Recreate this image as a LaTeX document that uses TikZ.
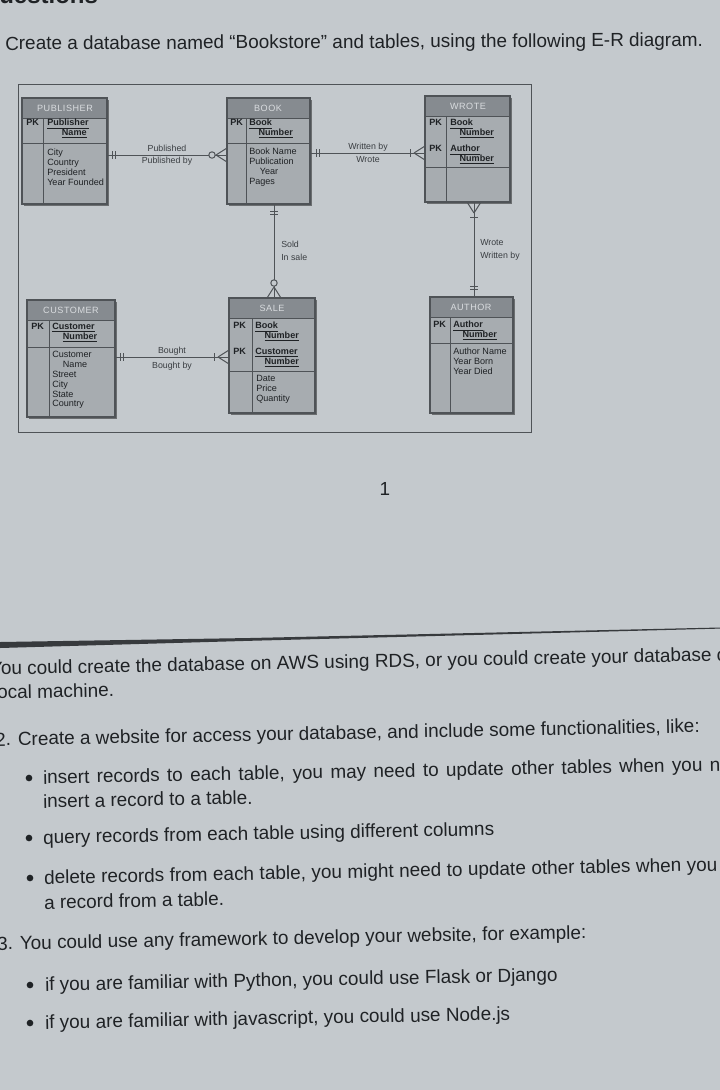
\documentclass[tikz,border=0pt]{standalone}
\usepackage{fontspec}
\setmainfont{Liberation Sans}
\usetikzlibrary{shadows,calc}
\definecolor{bg}{HTML}{C4C9CD}
\definecolor{ink}{HTML}{1F2225}
\definecolor{lab}{HTML}{3A3E42}
\definecolor{hdr}{HTML}{868B90}
\definecolor{bodyc}{HTML}{A7ACB0}
\definecolor{edgec}{HTML}{4F5357}
\definecolor{hdrtxt}{HTML}{D9DCDF}
\newcommand\btfont{\fontsize{6.8}{7.4}\selectfont}
\newcommand\ptfont{\fontsize{14.2}{17}\selectfont}
% name, x1, y1, x2, y2, header bottom, key bottom, column divider
\newcommand\entbox[8]{%
  \node[entity, anchor=north west, minimum width={(#4-#2)*0.75pt}, minimum height={(#5-#3)*0.75pt}] (#1) at (#2,#3) {};
  \fill[hdr] (#2,#3) rectangle (#4,#6);
  \draw[divl] (#2,#6) -- (#4,#6);
  \draw[divl] (#2,#7) -- (#4,#7);
  \draw[divl] (#8,#6) -- (#8,#5);
  \draw[draw=edgec, line width=0.8pt] (#1.north west) rectangle (#1.south east);
}
\begin{document}
\begin{tikzpicture}[x=0.75pt,y=-0.75pt,
  entity/.style={draw=edgec, line width=0.8pt, fill=bodyc, inner sep=0pt, outer sep=0pt,
    drop shadow={shadow xshift=1.8pt, shadow yshift=-1.8pt, opacity=0.45, fill=black}},
  divl/.style={draw=edgec, line width=0.5pt},
  conn/.style={draw=edgec, line width=0.75pt},
  btx/.style={font=\btfont, text=ink, inner sep=0pt, anchor=north west, align=left},
  bkey/.style={btx, font=\btfont\bfseries},
  htx/.style={font=\fontsize{6.8}{8}\selectfont\addfontfeature{LetterSpace=6}, text=hdrtxt, inner sep=0pt},
  lbl/.style={font=\fontsize{6.6}{8}\selectfont, text=lab, inner sep=0pt},
  ptx/.style={font=\ptfont, text=ink, inner sep=0pt, anchor=base west, rotate=1.1},
  bul/.style={circle, fill=ink, inner sep=0pt, minimum size=5pt},
]
\path[use as bounding box] (0,0) rectangle (720,1090);
\clip (0,0) rectangle (720,1090);
\fill[bg] (0,0) rectangle (720,1090);

% ---------- page text (top) ----------
\node[font=\fontsize{18}{20}\selectfont\bfseries, text=ink, anchor=base west, inner sep=0pt] (head) at (-1,3) {uestions};
\node[ptx, rotate=-0.8] (l1) at (5,50) {Create a database named “Bookstore” and tables, using the following E-R diagram.};

% ---------- frame ----------
\node[draw=edgec, line width=1.1pt, anchor=north west, inner sep=0pt, minimum width={513*0.75pt}, minimum height={348*0.75pt}] (frame) at (18,84) {};

% ---------- entities ----------
\entbox{pub}{22}{98}{107}{204}{118}{143}{43}
\entbox{book}{227}{98}{310}{204}{118}{143}{246}
\entbox{wrote}{425}{96}{510}{202}{116}{167}{446}
\entbox{cust}{27}{300}{115}{417}{320}{347}{49}
\entbox{sale}{229}{298}{315}{413}{318}{371}{252}
\entbox{auth}{430}{297}{513}{413}{317}{343}{450}

% headers
\node[htx] (pubh) at (65,108) {PUBLISHER};
\node[htx] (bookh) at (268,108) {BOOK};
\node[htx] (wroteh) at (468,106) {WROTE};
\node[htx] (custh) at (71,310) {CUSTOMER};
\node[htx] (saleh) at (272,308) {SALE};
\node[htx] (authh) at (471,307) {AUTHOR};

% PUBLISHER
\node[bkey] (pubpk) at (26,119) {PK};
\node[bkey] (pubk) at (47,119) {\underline{Publisher}\\\hspace*{11pt}\underline{Name}};
\node[btx] (puba) at (47,149) {City\\Country\\President\\Year Founded};
% BOOK
\node[bkey] (bookpk) at (230,119) {PK};
\node[bkey] (bookk) at (249,119) {\underline{Book}\\\hspace*{7pt}\underline{Number}};
\node[btx] (booka) at (249,148) {Book Name\\Publication\\\hspace*{8pt}Year\\Pages};
% WROTE
\node[bkey] (wrotepk1) at (429,119) {PK};
\node[bkey] (wrotek1) at (450,119) {\underline{Book}\\\hspace*{7pt}\underline{Number}};
\node[bkey] (wrotepk2) at (429,145) {PK};
\node[bkey] (wrotek2) at (450,145) {\underline{Author}\\\hspace*{7pt}\underline{Number}};
% CUSTOMER
\node[bkey] (custpk) at (31,323) {PK};
\node[bkey] (custk) at (52,323) {\underline{Customer}\\\hspace*{8pt}\underline{Number}};
\node[btx] (custa) at (52,351) {Customer\\\hspace*{8pt}Name\\Street\\City\\State\\Country};
% SALE
\node[bkey] (salepk1) at (233,322) {PK};
\node[bkey] (salek1) at (255,322) {\underline{Book}\\\hspace*{7pt}\underline{Number}};
\node[bkey] (salepk2) at (233,348) {PK};
\node[bkey] (salek2) at (255,348) {\underline{Customer}\\\hspace*{7pt}\underline{Number}};
\node[btx] (salea) at (256,375) {Date\\Price\\Quantity};
% AUTHOR
\node[bkey] (authpk) at (433,321) {PK};
\node[bkey] (authk) at (453,321) {\underline{Author}\\\hspace*{7pt}\underline{Number}};
\node[btx] (autha) at (453,348) {Author Name\\Year Born\\Year Died};

% ---------- relationships ----------
\coordinate (r1) at (0,155);
\coordinate (r2) at (0,153);
\coordinate (r3) at (0,357);
\coordinate (c1) at (274,0);
\coordinate (c2) at (474,0);

% PUBLISHER - BOOK
\coordinate (a1) at (pub.east |- r1);
\coordinate (a2) at (book.west |- r1);
\draw[conn] (a1) -- (a2);
\draw[conn] (a1) ++(5,-4) -- ++(0,8) (a1) ++(8,-4) -- ++(0,8);
\draw[conn] (a2) ++(-11,0) -- ++(11,-7) (a2) ++(-11,0) -- ++(11,7);
\draw[conn, fill=bg] (a2) ++(-15,0) circle (3.2);
\node[lbl] (lp1) at (167,148) {Published};
\node[lbl] (lp2) at (167,161) {Published by};

% BOOK - WROTE
\coordinate (b1) at (book.east |- r2);
\coordinate (b2) at (wrote.west |- r2);
\draw[conn] (b1) -- (b2);
\draw[conn] (b1) ++(6,-4) -- ++(0,8) (b1) ++(9,-4) -- ++(0,8);
\draw[conn] (b2) ++(-11,0) -- ++(11,-7) (b2) ++(-11,0) -- ++(11,7);
\draw[conn] (b2) ++(-15,-4) -- ++(0,8);
\node[lbl] (lw1) at (368,147) {Written by};
\node[lbl] (lw2) at (368,160) {Wrote};

% BOOK - SALE
\coordinate (d1) at (book.south -| c1);
\coordinate (d2) at (sale.north -| c1);
\draw[conn] (d1) -- (d2);
\draw[conn] (d1) ++(-4,7) -- ++(8,0) (d1) ++(-4,10) -- ++(8,0);
\draw[conn] (d2) ++(0,-11) -- ++(-7,11) (d2) ++(0,-11) -- ++(7,11);
\draw[conn, fill=bg] (d2) ++(0,-15) circle (3.2);
\node[lbl, anchor=west] (ls1) at (281,244) {Sold};
\node[lbl, anchor=west] (ls2) at (281,257) {In sale};

% CUSTOMER - SALE
\coordinate (e1) at (cust.east |- r3);
\coordinate (e2) at (sale.west |- r3);
\draw[conn] (e1) -- (e2);
\draw[conn] (e1) ++(5,-4) -- ++(0,8) (e1) ++(8,-4) -- ++(0,8);
\draw[conn] (e2) ++(-11,0) -- ++(11,-7) (e2) ++(-11,0) -- ++(11,7);
\draw[conn] (e2) ++(-15,-4) -- ++(0,8);
\node[lbl] (lb1) at (172,351) {Bought};
\node[lbl] (lb2) at (172,366) {Bought by};

% WROTE - AUTHOR
\coordinate (f1) at (wrote.south -| c2);
\coordinate (f2) at (auth.north -| c2);
\draw[conn] (f1) -- (f2);
\draw[conn] (f1) ++(0,11) -- ++(-7,-11) (f1) ++(0,11) -- ++(7,-11);
\draw[conn] (f1) ++(-4,15) -- ++(8,0);
\draw[conn] (f2) ++(-4,-8) -- ++(8,0) (f2) ++(-4,-11) -- ++(8,0);
\node[lbl, anchor=west] (la1) at (480,243) {Wrote};
\node[lbl, anchor=west] (la2) at (480,256) {Written by};

% ---------- page number and page edge ----------
\node[font=\ptfont, text=ink, inner sep=0pt] (pnum) at (385,489) {1};
\fill[edgec!70!black] (0,642) -- (250,638) -- (720,627.5) -- (720,628.6) -- (250,640.8) -- (0,648) -- cycle;

% ---------- page text (bottom) ----------
\node[ptx] (t1) at (-10,675) {You could create the database on AWS using RDS, or you could create your database o};
\node[ptx] (t2) at (-7,699) {local machine.};
\node[ptx] (t3) at (-5,746) {2. Create a website for access your database, and include some functionalities, like:};
\node[bul] (bu1) at (29,778) {};
\node[ptx] (t4) at (43,784) {\makebox[508pt][s]{insert records to each table, you may need to update other tables when you n}};
\node[ptx] (t5) at (43,808) {insert a record to a table.};
\node[bul] (bu2) at (29,838) {};
\node[ptx] (t6) at (43,844) {query records from each table using different columns};
\node[bul] (bu3) at (30,878) {};
\node[ptx] (t7) at (44,884) {\makebox[505pt][s]{delete records from each table, you might need to update other tables when you}};
\node[ptx] (t8) at (44,909) {a record from a table.};
\node[ptx] (t9) at (-3,950) {3. You could use any framework to develop your website, for example:};
\node[bul] (bu4) at (30,985) {};
\node[ptx] (t10) at (45,991) {if you are familiar with Python, you could use Flask or Django};
\node[bul] (bu5) at (30,1023) {};
\node[ptx] (t11) at (45,1029) {if you are familiar with javascript, you could use Node.js};
\end{tikzpicture}
\end{document}
